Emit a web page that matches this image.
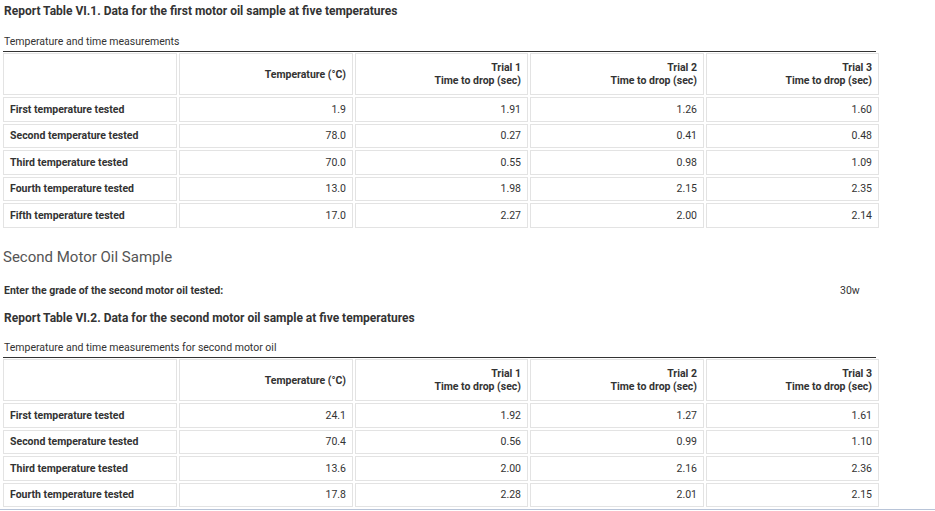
<!DOCTYPE html>
<html><head><meta charset="utf-8">
<script src="https://cdn.jsdelivr.net/npm/chart.js@4"></script>
<style>
body{margin:0;width:935px;height:511px;overflow:hidden;font-family:Roboto,Arial,sans-serif;color:#333;background:#fff;position:relative}
.abs{position:absolute;white-space:nowrap}
.t{font-weight:bold;font-size:12px;color:#333}
.s{font-size:10.5px;color:#333}
.line{position:absolute;left:3px;width:873px;height:1px;background:#333}
table{position:absolute;left:1px;border-collapse:separate;border-spacing:2px;font-size:10.5px;color:#333}
td,th{border:1px solid #e3e3e3;padding:0 6px;box-sizing:border-box}
th{font-weight:bold;text-align:right;height:42px;line-height:13px}
td{height:24.5px;text-align:right}
td.l{text-align:left;font-weight:bold}
</style></head><body>
<div id="root"></div>
<script>
const rowLabels1=["First temperature tested","Second temperature tested","Third temperature tested","Fourth temperature tested","Fifth temperature tested"];
const temps1=["1.9","78.0","70.0","13.0","17.0"];
const trial1a=["1.91","0.27","0.55","1.98","2.27"];
const trial2a=["1.26","0.41","0.98","2.15","2.00"];
const trial3a=["1.60","0.48","1.09","2.35","2.14"];
const rowLabels2=["First temperature tested","Second temperature tested","Third temperature tested","Fourth temperature tested"];
const temps2=["24.1","70.4","13.6","17.8"];
const trial1b=["1.92","0.56","2.00","2.28"];
const trial2b=["1.27","0.99","2.16","2.01"];
const trial3b=["1.61","1.10","2.36","2.15"];
const headers=["","Temperature (°C)","Trial 1<br>Time to drop (sec)","Trial 2<br>Time to drop (sec)","Trial 3<br>Time to drop (sec)"];
const widths=[174,174,173,174,173];
function table(top,labels,cols){
  let h='<table style="top:'+top+'px"><tr>'+headers.map((x,i)=>'<th style="width:'+widths[i]+'px">'+x+'</th>').join('')+'</tr>';
  labels.forEach((l,r)=>{h+='<tr><td class="l">'+l+'</td>'+cols.map(c=>'<td>'+c[r]+'</td>').join('')+'</tr>';});
  return h+'</table>';
}
let html='';
html+='<div class="abs t" style="left:4px;top:4px">Report Table VI.1. Data for the first motor oil sample at five temperatures</div>';
html+='<div class="abs s" style="left:4px;top:35px">Temperature and time measurements</div>';
html+='<div class="line" style="top:51px"></div>';
html+=table(51,rowLabels1,[temps1,trial1a,trial2a,trial3a]);
html+='<div class="abs" style="left:3px;top:248px;font-size:15px;color:#555">Second Motor Oil Sample</div>';
html+='<div class="abs s" style="left:4px;top:284px;font-weight:bold">Enter the grade of the second motor oil tested:</div>';
html+='<div class="abs s" style="left:840px;top:284px">30w</div>';
html+='<div class="abs t" style="left:4px;top:311px">Report Table VI.2. Data for the second motor oil sample at five temperatures</div>';
html+='<div class="abs s" style="left:4px;top:341px">Temperature and time measurements for second motor oil</div>';
html+='<div class="line" style="top:357px"></div>';
html+=table(357,rowLabels2,[temps2,trial1b,trial2b,trial3b]);
html+='<div style="position:absolute;left:0;top:509px;width:935px;height:1px;background:#b8c4d8"></div>';
document.getElementById('root').innerHTML=html;
</script>
</body></html>
